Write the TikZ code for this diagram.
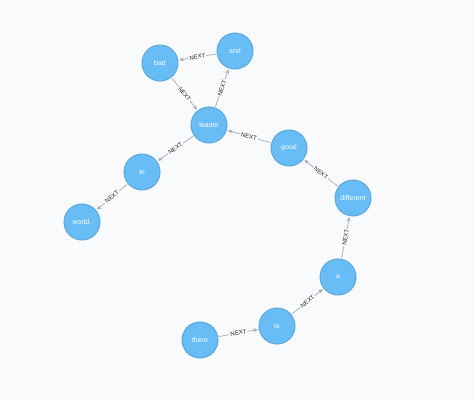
\documentclass[tikz,border=0pt]{standalone}
\usepackage{fontspec}
\setmainfont{Liberation Sans}
\usetikzlibrary{arrows.meta}
\definecolor{nodefill}{RGB}{104,189,246}
\definecolor{nodebdr}{RGB}{92,168,219}
\definecolor{edgeclr}{RGB}{165,171,182}
\definecolor{canvas}{RGB}{249,250,251}
\definecolor{lbltext}{RGB}{40,40,40}
\tikzset{
  %% word node
  wnd/.style={circle,draw=nodebdr,fill=nodefill,line width=1pt,
    minimum size=36pt,inner sep=0pt,
    font=\fontsize{7}{8}\selectfont,text=white},
  %% arrows
  arr/.style={-{Stealth[length=4.5pt,width=4pt]},line width=0.7pt,color=edgeclr,
    shorten >=1pt,shorten <=1pt},
  lbl/.style={font=\fontsize{6}{7}\selectfont,text=lbltext,fill=canvas,
    inner sep=1pt,sloped,midway},
}
\begin{document}
\begin{tikzpicture}[x=1pt,y=-1pt]
  \fill[canvas] (0,0) rectangle (474,401);
  \useasboundingbox (0,0) rectangle (474,401);

  \node[wnd] (bad)    at (160,63)  {bad};
  \node[wnd] (and)    at (235,51)  {and};
  \node[wnd] (leader) at (209,125) {leader};
  \node[wnd] (good)   at (289,148) {good};
  \node[wnd] (in)     at (142,172) {in};
  \node[wnd] (diff)   at (353,198) {different};
  \node[wnd] (world)  at (82,222)  {world.};
  \node[wnd] (a)      at (338,277) {a};
  \node[wnd] (is)     at (277,326) {is};
  \node[wnd] (there)  at (200,340) {there};

  \draw[arr] (there)  -- node[lbl]{NEXT} (is);
  \draw[arr] (is)     -- node[lbl]{NEXT} (a);
  \draw[arr] (a)      -- node[lbl]{NEXT} (diff);
  \draw[arr] (diff)   -- node[lbl]{NEXT} (good);
  \draw[arr] (good)   -- node[lbl]{NEXT} (leader);
  \draw[arr] (leader) -- node[lbl]{NEXT} (and);
  \draw[arr] (and)    -- node[lbl]{NEXT} (bad);
  \draw[arr] (bad)    -- node[lbl]{NEXT} (leader);
  \draw[arr] (leader) -- node[lbl]{NEXT} (in);
  \draw[arr] (in)     -- node[lbl]{NEXT} (world);
\end{tikzpicture}
\end{document}
